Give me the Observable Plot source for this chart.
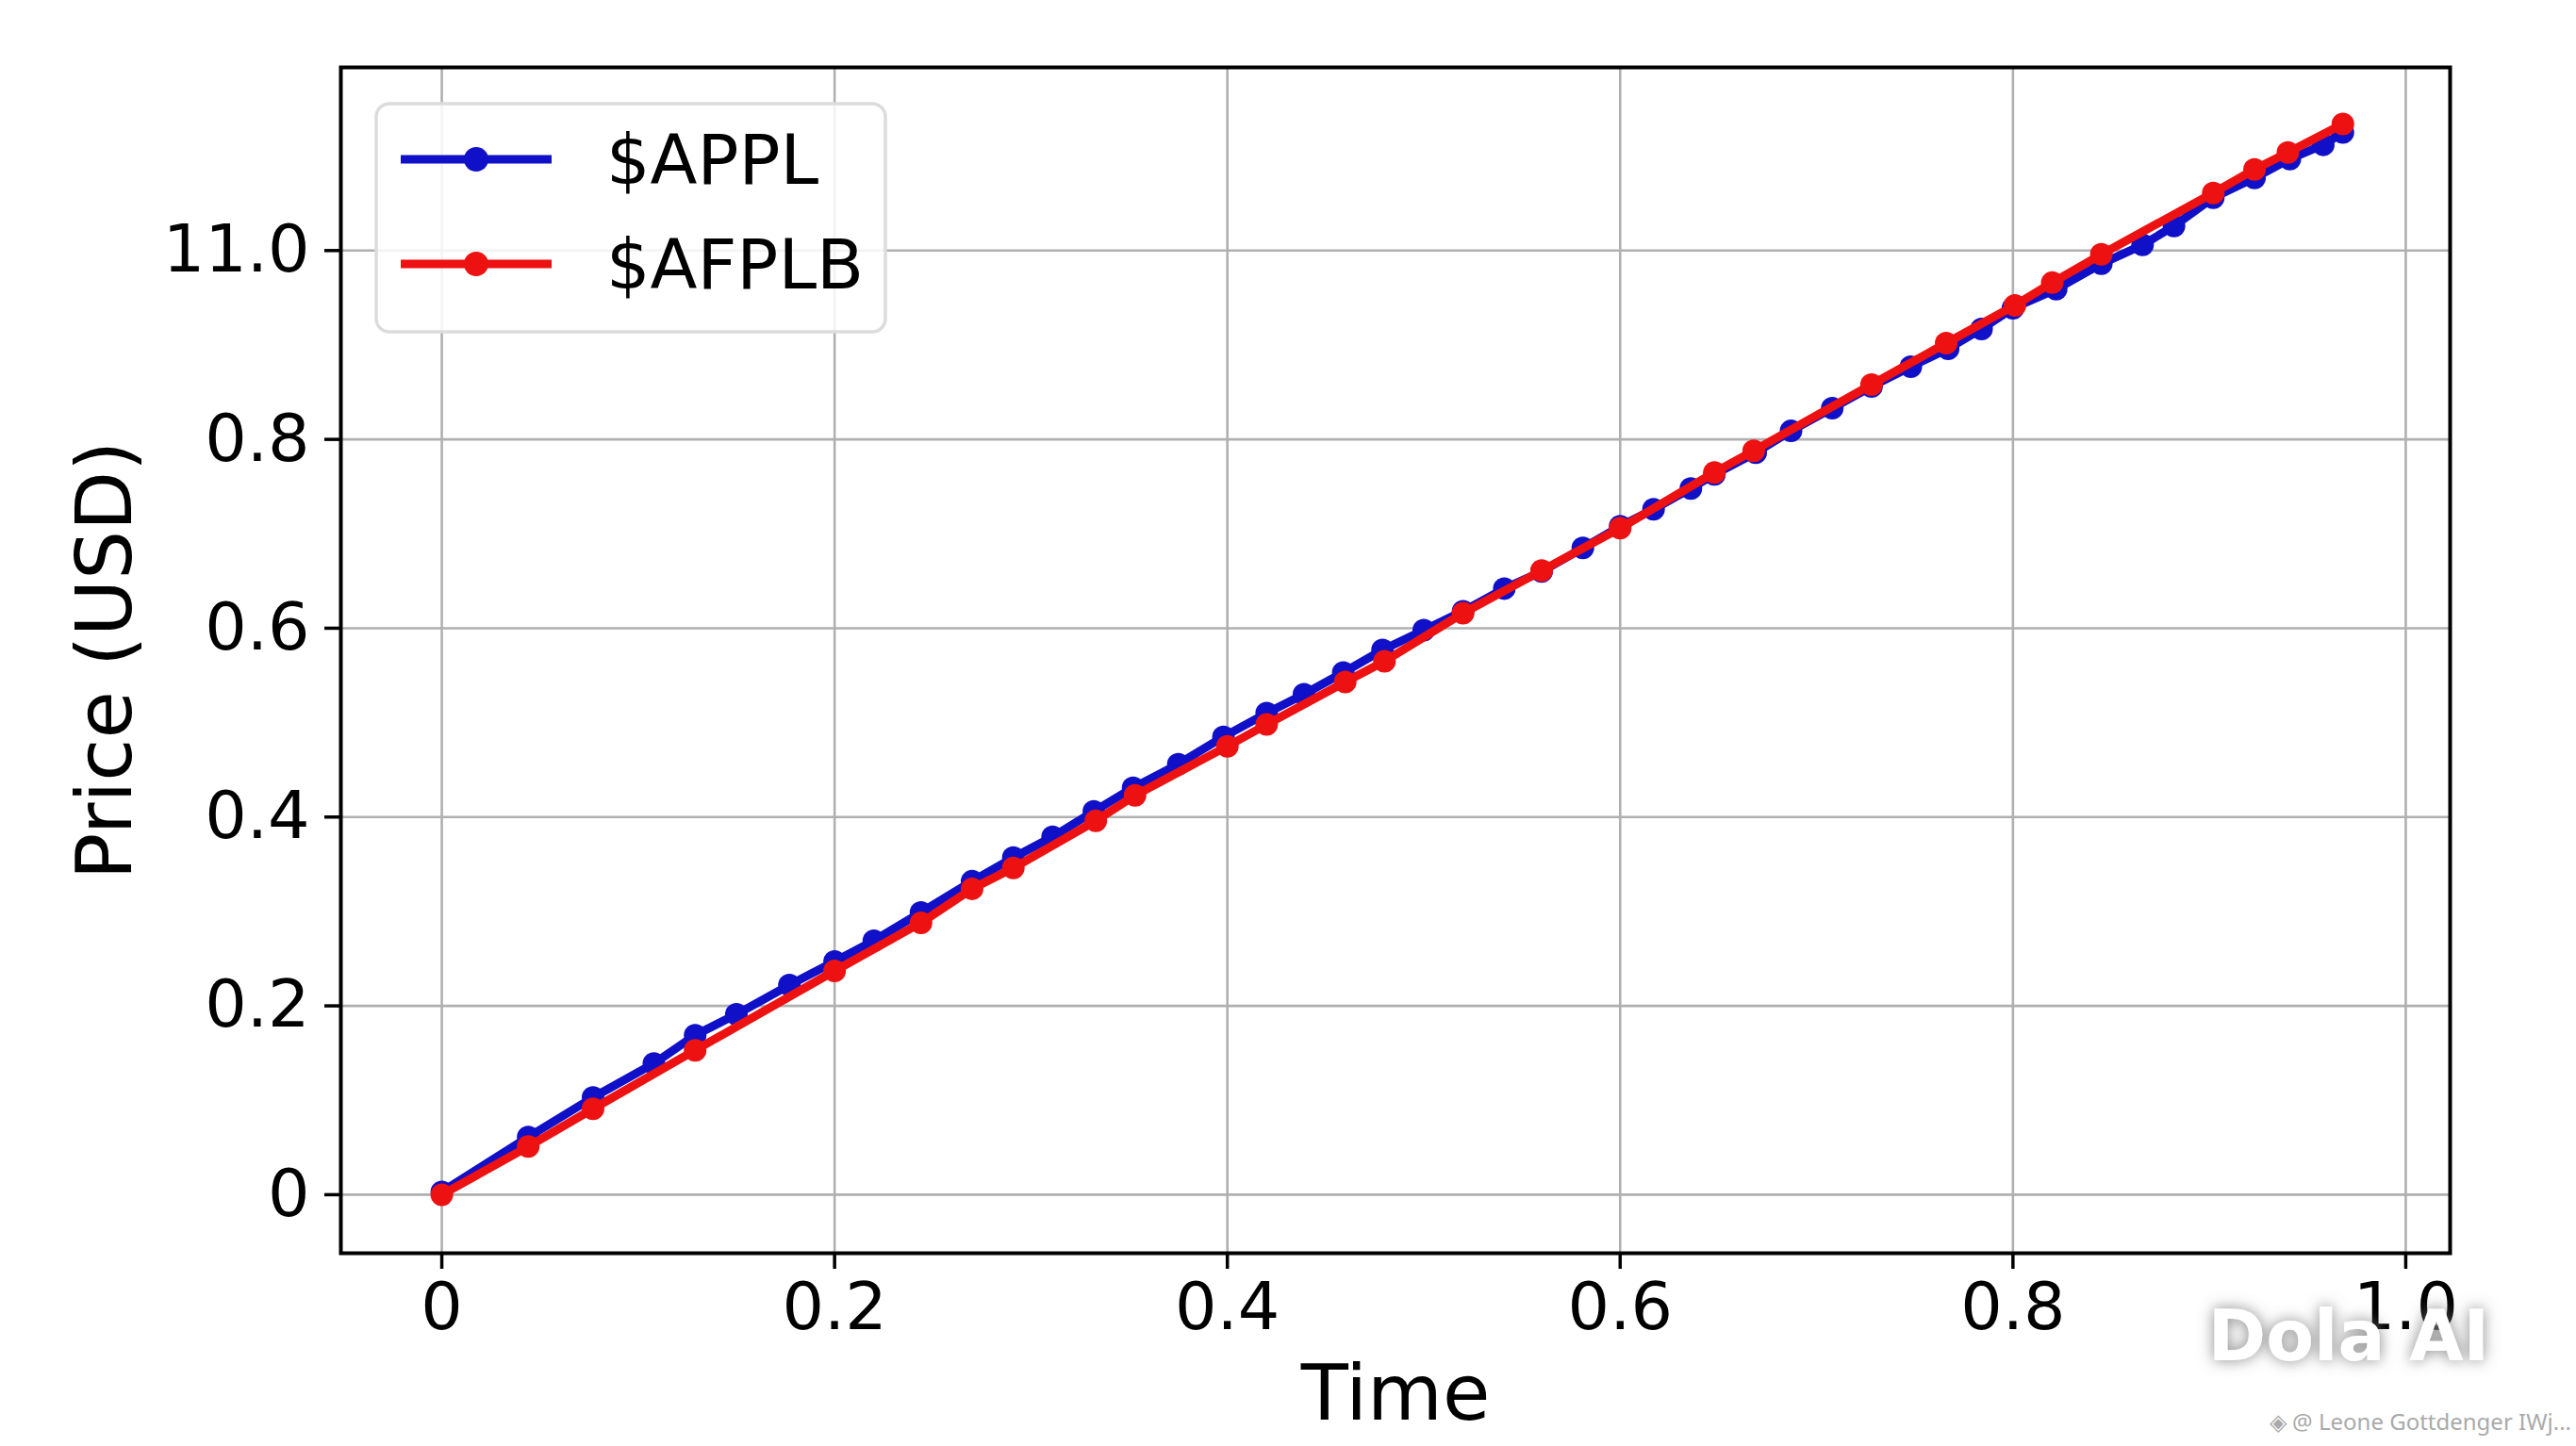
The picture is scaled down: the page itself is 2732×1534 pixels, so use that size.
<!DOCTYPE html>
<html>
<head>
<meta charset="utf-8">
<script src="https://cdn.jsdelivr.net/npm/d3@7"></script>
<script src="https://cdn.jsdelivr.net/npm/@observablehq/plot@0.6"></script>
<style>
  html, body { margin: 0; padding: 0; background: #fff; }
  #chart svg { display: block; }
</style>
</head>
<body>
<div id="chart"></div>
<script>
// ---- Data ----
const seriesNames = ["$APPL", "$AFPLB"];
const seriesColors = ["#1010c8", "#ee1111"];

const applX = [0, 0.044, 0.077, 0.108, 0.129, 0.150, 0.177, 0.200, 0.220, 0.244, 0.270, 0.291, 0.311, 0.332, 0.352, 0.375, 0.398, 0.420, 0.439, 0.459, 0.479, 0.500, 0.520, 0.541, 0.560, 0.581, 0.600, 0.617, 0.636, 0.648, 0.669, 0.687, 0.708, 0.728, 0.748, 0.767, 0.784, 0.800, 0.822, 0.845, 0.866, 0.882, 0.902, 0.923, 0.941, 0.958, 0.968];
const applY = [0.003, 0.061, 0.103, 0.139, 0.169, 0.191, 0.222, 0.247, 0.269, 0.299, 0.332, 0.357, 0.379, 0.406, 0.431, 0.456, 0.485, 0.510, 0.530, 0.553, 0.577, 0.598, 0.618, 0.642, 0.660, 0.685, 0.708, 0.726, 0.748, 0.763, 0.786, 0.809, 0.833, 0.856, 0.877, 0.896, 0.917, 0.939, 0.959, 0.986, 1.006, 1.026, 1.056, 1.077, 1.097, 1.112, 1.125];

const afplbX = [0, 0.044, 0.077, 0.129, 0.200, 0.244, 0.270, 0.291, 0.333, 0.353, 0.400, 0.420, 0.460, 0.480, 0.520, 0.560, 0.600, 0.648, 0.668, 0.728, 0.766, 0.801, 0.820, 0.845, 0.902, 0.923, 0.940, 0.968];
const afplbY = [0, 0.051, 0.091, 0.153, 0.237, 0.288, 0.324, 0.346, 0.396, 0.423, 0.475, 0.498, 0.543, 0.565, 0.616, 0.661, 0.706, 0.765, 0.788, 0.858, 0.902, 0.942, 0.966, 0.996, 1.061, 1.086, 1.104, 1.134];

const xTicks = [0, 0.2, 0.4, 0.6, 0.8, 1.0];
const xTickLabels = ["0", "0.2", "0.4", "0.6", "0.8", "1.0"];
const yTicks = [0, 0.2, 0.4, 0.6, 0.8, 1.0];
const yTickLabels = ["0", "0.2", "0.4", "0.6", "0.8", "11.0"];

const xLabel = "Time";
const yLabel = "Price (USD)";
const watermark = "Dola AI";
const credit = "@ Leone Gottdenger IWj...";

// ---- Build tables ----
const appl = applX.map((x, i) => ({x, y: applY[i], s: seriesNames[0]}));
const afplb = afplbX.map((x, i) => ({x, y: afplbY[i], s: seriesNames[1]}));

const fmt = (ticks, labels) => d => {
  const i = ticks.findIndex(t => Math.abs(t - d) < 1e-9);
  return i >= 0 ? labels[i] : "";
};

const W = 2732, H = 1534;
const FONT = "DejaVu Sans, sans-serif";

const svg = Plot.plot({
  width: W,
  height: H,
  marginLeft: 361,
  marginRight: 134,
  marginTop: 71,
  marginBottom: 205,
  style: {fontFamily: FONT, background: "#fff", overflow: "visible"},
  x: {domain: [-0.0514, 1.0226], label: null},
  y: {domain: [-0.062, 1.194], label: null},
  marks: [
    Plot.gridX(xTicks, {stroke: "#b0b0b0", strokeOpacity: 1, strokeWidth: 2.6}),
    Plot.gridY(yTicks, {stroke: "#b0b0b0", strokeOpacity: 1, strokeWidth: 2.6}),
    Plot.line(appl, {x: "x", y: "y", stroke: seriesColors[0], strokeWidth: 9}),
    Plot.dot(appl, {x: "x", y: "y", fill: seriesColors[0], r: 12}),
    Plot.line(afplb, {x: "x", y: "y", stroke: seriesColors[1], strokeWidth: 9}),
    Plot.dot(afplb, {x: "x", y: "y", fill: seriesColors[1], r: 12}),
    Plot.frame({stroke: "#000", strokeWidth: 4}),
    Plot.axisX(xTicks, {tickFormat: fmt(xTicks, xTickLabels), tickSize: 17, tickPadding: 14,
      strokeWidth: 3.5, fontSize: 70, fill: "#000", label: null}),
    Plot.axisY(yTicks, {tickFormat: fmt(yTicks, yTickLabels), tickSize: 17, tickPadding: 16,
      strokeWidth: 3.5, fontSize: 70, fill: "#000", label: null}),
    Plot.text([xLabel], {frameAnchor: "bottom", dy: 150, text: d => d, fontSize: 82,
      fill: "#000", lineAnchor: "middle", textAnchor: "middle"}),
    Plot.text([yLabel], {frameAnchor: "left", dx: -249, text: d => d, fontSize: 82,
      fill: "#000", rotate: -90, lineAnchor: "middle", textAnchor: "middle"})
  ]
});

// ---- Legend (upper left, inside the frame) ----
const s = d3.select(svg);
const lg = s.append("g").attr("transform", "translate(399,110)");
lg.append("rect")
  .attr("width", 540).attr("height", 242).attr("rx", 14)
  .attr("fill", "#fff").attr("fill-opacity", 0.85)
  .attr("stroke", "#dcdcdc").attr("stroke-width", 3.5);
seriesNames.forEach((name, i) => {
  const yy = 59 + i * 111;
  lg.append("line").attr("x1", 26).attr("x2", 186).attr("y1", yy).attr("y2", yy)
    .attr("stroke", seriesColors[i]).attr("stroke-width", 9);
  lg.append("circle").attr("cx", 106).attr("cy", yy).attr("r", 13).attr("fill", seriesColors[i]);
  lg.append("text").attr("x", 244).attr("y", yy).attr("dy", "0.36em")
    .attr("text-anchor", "start")
    .attr("font-family", FONT).attr("font-size", 73).attr("fill", "#000").text(name);
});

// ---- Watermark ----
const defs = s.append("defs");
const f = defs.append("filter").attr("id", "wmShadow").attr("x", "-20%").attr("y", "-40%")
  .attr("width", "140%").attr("height", "180%");
f.append("feDropShadow").attr("dx", 0).attr("dy", 0).attr("stdDeviation", 8)
  .attr("flood-color", "#777").attr("flood-opacity", 0.9);
s.append("text").attr("x", 2640).attr("y", 1443).attr("text-anchor", "end")
  .attr("font-family", "DejaVu Sans, sans-serif").attr("font-weight", "bold")
  .attr("font-size", 74).attr("fill", "#fff").attr("filter", "url(#wmShadow)")
  .text(watermark);
s.append("text").attr("x", 2727).attr("y", 1517).attr("text-anchor", "end")
  .attr("font-family", "Noto Sans, sans-serif").attr("font-size", 24).attr("fill", "#aaa")
  .text("\u25C8 " + credit);

document.getElementById("chart").appendChild(svg);
</script>
</body>
</html>
